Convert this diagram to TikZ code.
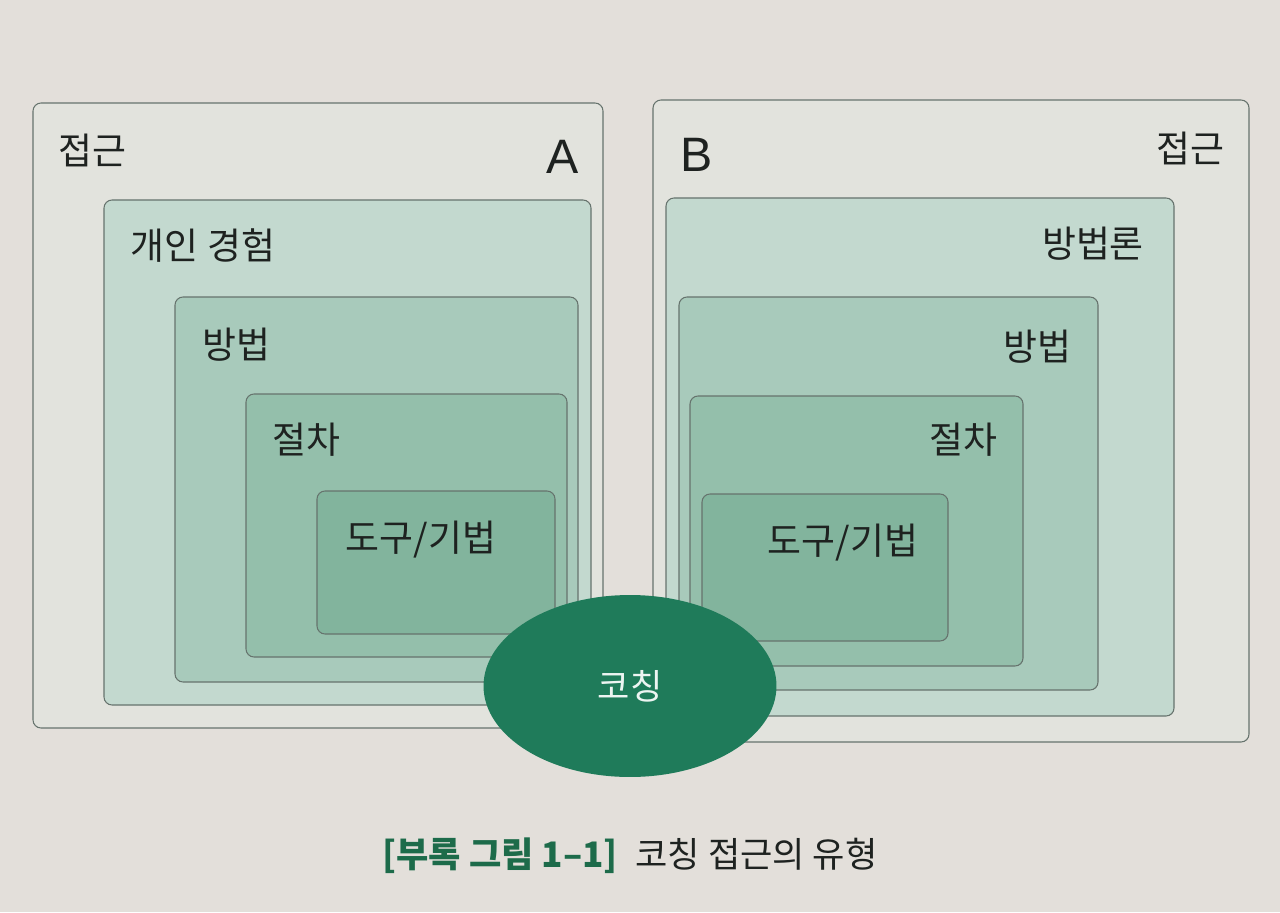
\documentclass[tikz,border=0pt]{standalone}
\usepackage{fontspec}
\setmainfont{Noto Sans CJK KR}
\newfontfamily\latinsans{Liberation Sans}
\usetikzlibrary{fit,shapes.geometric}
\definecolor{paper}{HTML}{E3DFDA}
\definecolor{edge}{HTML}{66736D}
\definecolor{ink}{HTML}{1E2220}
\definecolor{lvA}{HTML}{E2E3DD}
\definecolor{lvB}{HTML}{C3D9CF}
\definecolor{lvC}{HTML}{A8CABB}
\definecolor{lvD}{HTML}{94BFAB}
\definecolor{lvE}{HTML}{82B49D}
\definecolor{coach}{HTML}{1F7B5A}
\definecolor{capgreen}{HTML}{1D6B4A}
\tikzset{
  layer/.style={draw=edge, line width=0.6pt, rounded corners=0.16cm, inner sep=0pt},
  lbl/.style={font=\fontsize{21}{23}\selectfont, text=ink, inner sep=0pt},
  letter/.style={font=\latinsans\fontsize{27.5}{30}\selectfont, text=ink, inner sep=0pt}
}
\begin{document}
\begin{tikzpicture}[x=0.02cm,y=-0.02cm]
\useasboundingbox[fill=paper] (0,0) rectangle (1280,912);

% A
\node[layer, fill=lvA, fit={(33,103) (603,728)}] (a1) {};
\node[layer, fill=lvB, fit={(104,200) (591,705)}] (a2) {};
\node[layer, fill=lvC, fit={(175,297) (578,682)}] (a3) {};
\node[layer, fill=lvD, fit={(246,394) (567,657)}] (a4) {};
\node[layer, fill=lvE, fit={(317,491) (555,634)}] (a5) {};
\node[lbl] (a1t) at (92,150) {접근};
\node[letter] (at) at (563,157) {A};
\node[lbl] (a2t) at (203,246) {개인 경험};
\node[lbl] (a3t) at (236,345) {방법};
\node[lbl] (a4t) at (306,440) {절차};
\node[lbl] (a5t) at (421,540) {도구/기법};

% B
\node[layer, fill=lvA, fit={(653,100) (1249,742)}] (b1) {};
\node[layer, fill=lvB, fit={(666,198) (1174,716)}] (b2) {};
\node[layer, fill=lvC, fit={(679,297) (1098,690)}] (b3) {};
\node[layer, fill=lvD, fit={(690,396) (1023,666)}] (b4) {};
\node[layer, fill=lvE, fit={(702,494) (948,641)}] (b5) {};
\node[letter] (bt) at (697,155) {B};
\node[lbl] (b1t) at (1190,148) {접근};
\node[lbl] (b2t) at (1093,244) {방법론};
\node[lbl] (b3t) at (1037,347) {방법};
\node[lbl] (b4t) at (963,440) {절차};
\node[lbl] (b5t) at (843,543) {도구/기법};

% coaching
\node[ellipse, fill=coach, minimum width=5.86cm, minimum height=3.64cm,
  font=\fontsize{20}{22}\selectfont, text=white!92!coach] (coaching) at (630,686) {코칭};

\node[font=\fontsize{20}{22}\selectfont, text=ink] (cap) at (630,856)
  {\textcolor{capgreen}{\bfseries [부록 그림 1–1]}\hspace{0.5em}코칭 접근의 유형};
\end{tikzpicture}
\end{document}
